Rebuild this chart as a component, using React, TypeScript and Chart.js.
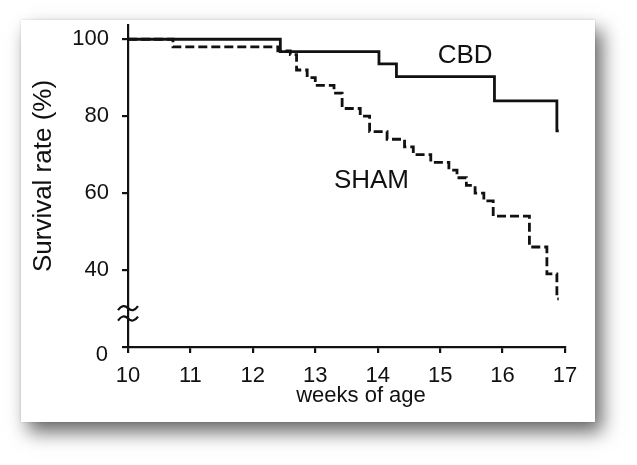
import React, { useEffect, useRef } from "react";
import { Chart, registerables } from "chart.js";

Chart.register(...registerables);

// ---- data ----
const weekTicks = [10, 11, 12, 13, 14, 15, 16, 17];
const survivalTicks = [20, 40, 60, 80, 100];
const survivalTickLabels = ["0", "40", "60", "80", "100"];

const cbdWeeks = [10, 12.44, 14.02, 14.3, 15.87, 16.87, 16.9];
const cbdSurvival = [100, 96.8, 93.6, 90.3, 84.0, 76.2, 76.2];

const shamWeeks = [
  10, 10.72, 12.4, 12.6, 12.7, 12.87, 13.0, 13.3, 13.43, 13.72, 13.87, 14.15,
  14.43, 14.57, 14.85, 15.14, 15.27, 15.42, 15.56, 15.7, 15.85, 16.43, 16.71,
  16.87, 16.9,
];
const shamSurvival = [
  100, 98, 97, 96, 92, 90, 88, 86, 82, 80, 76, 74, 72, 70, 68, 66, 64, 62, 60,
  58, 54, 46, 39, 32.5, 32.5,
];

const seriesLabels = ["CBD", "SHAM"];
const xTitle = "weeks of age";
const yTitle = "Survival rate (%)";

const FONT = "'Liberation Sans', Arial, Helvetica, sans-serif";
const INK = "#111";

export default function App() {
  const ref = useRef<HTMLCanvasElement>(null);

  useEffect(() => {
    document.body.style.margin = "0";
    const canvas = ref.current;
    if (!canvas) return;

    const annotate = {
      id: "annotate",
      afterDraw(chart: any) {
        const { ctx, chartArea, scales } = chart;
        const x = scales.x;
        const y = scales.y;
        ctx.save();
        ctx.fillStyle = INK;
        ctx.strokeStyle = INK;

        // series labels
        ctx.font = `26px ${FONT}`;
        ctx.textAlign = "center";
        ctx.textBaseline = "alphabetic";
        ctx.fillText(seriesLabels[0], x.getPixelForValue(15.4), y.getPixelForValue(93.8));
        ctx.fillText(seriesLabels[1], x.getPixelForValue(13.9), y.getPixelForValue(61.3));

        // y title
        ctx.save();
        ctx.translate(chartArea.left - 84, 176);
        ctx.rotate(-Math.PI / 2);
        ctx.textBaseline = "middle";
        ctx.font = `26px ${FONT}`;
        ctx.fillText(yTitle, 0, 0);
        ctx.restore();

        // x title
        ctx.font = `22px ${FONT}`;
        ctx.textAlign = "center";
        ctx.textBaseline = "alphabetic";
        ctx.fillText(xTitle, chartArea.left + 233, chartArea.bottom + 55);

        // "0" label of the broken axis
        ctx.font = `22px ${FONT}`;
        ctx.textAlign = "right";
        ctx.textBaseline = "middle";
        ctx.fillText(survivalTickLabels[0], chartArea.left - 20, y.getPixelForValue(survivalTicks[0]) + 8);

        // axis break marks
        ctx.lineWidth = 2.2;
        const ax = chartArea.left;
        [30.1, 27.4].forEach((v) => {
          const py = y.getPixelForValue(v);
          ctx.beginPath();
          ctx.moveTo(ax - 10, py + 2);
          ctx.quadraticCurveTo(ax - 5, py - 5, ax, py);
          ctx.quadraticCurveTo(ax + 5, py + 5, ax + 10, py - 2);
          ctx.stroke();
        });
        ctx.restore();
      },
    };

    const chart = new Chart(canvas, {
      type: "line",
      data: {
        datasets: [
          {
            label: seriesLabels[1],
            data: shamWeeks.map((w, i) => ({ x: w, y: shamSurvival[i] })),
            borderColor: INK,
            borderWidth: 2.8,
            borderDash: [9, 4],
            stepped: true,
            pointRadius: 0,
            fill: false,
          },
          {
            label: seriesLabels[0],
            data: cbdWeeks.map((w, i) => ({ x: w, y: cbdSurvival[i] })),
            borderColor: INK,
            borderWidth: 2.8,
            stepped: true,
            pointRadius: 0,
            fill: false,
          },
        ],
      },
      options: {
        animation: false,
        responsive: false,
        events: [],
        layout: { padding: { left: 0, right: 72, top: 25, bottom: 0 } },
        plugins: {
          legend: { display: false },
          tooltip: { enabled: false },
          title: { display: false },
        },
        scales: {
          x: {
            type: "linear",
            min: 10,
            max: 17,
            afterBuildTicks: (s: any) => {
              s.ticks = weekTicks.map((v) => ({ value: v }));
            },
            afterFit: (s: any) => {
              s.height = 118;
            },
            grid: {
              display: true,
              drawOnChartArea: false,
              drawTicks: true,
              tickLength: 6,
              color: INK,
              lineWidth: 2.2,
            },
            border: { display: true, color: INK, width: 2.2 },
            ticks: {
              color: INK,
              padding: 12,
              maxRotation: 0,
              autoSkip: false,
              font: { family: FONT, size: 22, lineHeight: 1 },
              callback: (v: any) => String(v),
            },
          },
          y: {
            type: "linear",
            min: 20,
            max: 103.7,
            afterBuildTicks: (s: any) => {
              s.ticks = survivalTicks.map((v) => ({ value: v }));
            },
            afterFit: (s: any) => {
              s.width = 128;
            },
            grid: {
              display: true,
              drawOnChartArea: false,
              drawTicks: true,
              tickLength: 6,
              color: INK,
              lineWidth: 2.2,
            },
            border: { display: true, color: INK, width: 2.2 },
            ticks: {
              color: INK,
              padding: 13,
              autoSkip: false,
              font: { family: FONT, size: 22, lineHeight: 1 },
              callback: (v: any) => {
                const i = survivalTicks.indexOf(Number(v));
                return i <= 0 ? "" : survivalTickLabels[i];
              },
            },
          },
        },
      },
      plugins: [annotate],
    });

    return () => chart.destroy();
  }, []);

  return (
    <div style={{ position: "relative", width: 637, height: 465, background: "#fff", overflow: "hidden" }}>
      <div
        style={{
          position: "absolute",
          left: 21,
          top: 20,
          width: 574,
          height: 402,
          background: "#fff",
          boxShadow: "7px 10px 18px rgba(0,0,0,0.6), 0 0 2px rgba(0,0,0,0.15)",
        }}
      />
      <canvas ref={ref} width={637} height={465} style={{ position: "absolute", left: 0, top: 0, width: 637, height: 465 }} />
    </div>
  );
}
